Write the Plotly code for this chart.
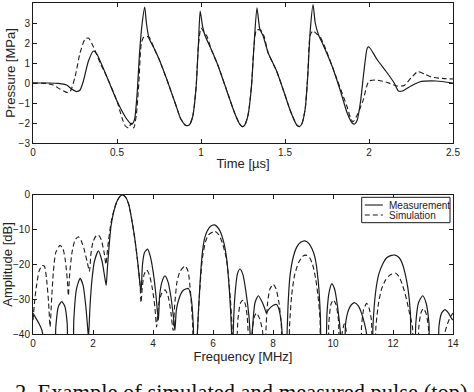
import plotly.graph_objects as go

# ---------------- data: top panel (pressure pulse) ----------------
t_meas = [0.00, 0.10, 0.15, 0.20, 0.23, 0.26, 0.28, 0.30, 0.33, 0.36, 0.38, 0.41, 0.45, 0.50,
          0.55, 0.58, 0.59, 0.605, 0.62, 0.635, 0.65, 0.665, 0.675, 0.69, 0.72, 0.75, 0.80,
          0.85, 0.88, 0.91, 0.93, 0.95, 0.97, 0.985, 0.995, 1.01, 1.025, 1.06, 1.10, 1.15,
          1.20, 1.23, 1.245, 1.26, 1.28, 1.30, 1.315, 1.333, 1.35, 1.37, 1.40, 1.45, 1.50,
          1.53, 1.57, 1.585, 1.60, 1.62, 1.635, 1.65, 1.667, 1.68, 1.70, 1.73, 1.78, 1.83,
          1.87, 1.90, 1.915, 1.93, 1.95, 1.97, 1.99, 2.00, 2.05, 2.10, 2.15, 2.175, 2.20,
          2.25, 2.30, 2.40, 2.50]
p_meas = [0.00, 0.00, -0.02, -0.10, -0.30, -0.43, -0.35, 0.10, 1.10, 1.60, 1.45, 0.90, 0.10, -0.90,
          -1.70, -2.02, -2.05, -1.80, -0.50, 1.60, 3.00, 3.80, 3.00, 2.25, 1.75, 1.20, 0.10,
          -1.10, -1.80, -2.12, -2.10, -1.70, -0.30, 2.00, 3.60, 2.80, 2.35, 1.70, 0.90, -0.30,
          -1.50, -2.05, -2.18, -2.10, -1.60, -0.20, 1.80, 3.76, 2.70, 2.35, 1.50, 0.60, -0.60,
          -1.35, -2.10, -2.18, -2.05, -1.30, 0.30, 2.60, 3.92, 3.00, 2.40, 1.85, 0.85, -0.40,
          -1.50, -2.00, -2.05, -1.85, -0.90, 0.60, 1.75, 1.80, 1.15, 0.60, 0.00, -0.40, -0.40,
          -0.15, 0.05, 0.10, 0.00]

t_sim = [0.00, 0.08, 0.12, 0.16, 0.20, 0.22, 0.25, 0.28, 0.31, 0.33, 0.36, 0.40, 0.44, 0.50,
         0.53, 0.55, 0.57, 0.585, 0.60, 0.615, 0.63, 0.645, 0.66, 0.69, 0.72, 0.75, 0.80,
         0.85, 0.88, 0.91, 0.93, 0.95, 0.97, 0.985, 1.00, 1.02, 1.035, 1.06, 1.10, 1.15,
         1.20, 1.23, 1.245, 1.26, 1.28, 1.30, 1.315, 1.33, 1.355, 1.375, 1.40, 1.45, 1.50,
         1.53, 1.57, 1.585, 1.60, 1.62, 1.635, 1.65, 1.667, 1.69, 1.71, 1.74, 1.80, 1.84,
         1.87, 1.89, 1.905, 1.93, 1.966, 1.985, 2.00, 2.04, 2.10, 2.17, 2.21, 2.25, 2.29,
         2.33, 2.37, 2.45, 2.50]
p_sim = [0.00, -0.02, -0.10, -0.30, -0.47, -0.45, 0.30, 1.50, 2.20, 2.25, 1.80, 1.00, 0.30, -0.90,
         -1.75, -2.15, -2.25, -2.00, -2.25, -1.60, 0.00, 2.00, 2.30, 2.30, 1.75, 1.20, 0.10,
         -1.10, -1.80, -2.12, -2.10, -1.70, -0.30, 1.90, 2.75, 2.50, 2.35, 1.70, 0.90, -0.30,
         -1.50, -2.05, -2.18, -2.10, -1.60, -0.20, 1.80, 2.65, 2.65, 2.35, 1.50, 0.60, -0.60,
         -1.35, -2.10, -2.18, -2.05, -1.30, 0.30, 2.40, 2.60, 2.45, 2.30, 1.75, 0.40, -0.50,
         -1.20, -1.75, -1.94, -1.60, -0.84, -0.20, 0.10, 0.15, 0.05, -0.15, -0.12, 0.25, 0.57,
         0.45, 0.30, 0.22, 0.20]

# ---------------- data: bottom panel (spectrum) ----------------
f_meas = [0.00, 0.10, 0.20, 0.30, 0.36, 0.55, 0.70, 0.76, 0.85, 0.96, 1.06, 1.14, 1.20,
          1.30, 1.36, 1.45, 1.57, 1.67, 1.76, 1.82, 1.85, 1.90, 1.97, 2.05, 2.18, 2.30, 2.38,
          2.44, 2.48, 2.52, 2.60, 2.70, 2.80, 2.90, 2.99, 3.10, 3.20, 3.30, 3.40, 3.50, 3.60,
          3.65, 3.72, 3.82, 3.92, 4.02, 4.10, 4.18, 4.22, 4.30, 4.40, 4.50, 4.60, 4.68, 4.73,
          4.78, 4.88, 5.00, 5.18, 5.28, 5.34, 5.40, 5.45, 5.50, 5.57, 5.64, 5.72, 5.80, 5.92,
          6.05, 6.20, 6.34, 6.45, 6.55, 6.62, 6.65, 6.68, 6.74, 6.82, 6.90, 7.00, 7.10, 7.20,
          7.28, 7.32, 7.40, 7.51, 7.62, 7.72, 7.78, 7.85, 8.00, 8.12, 8.20, 8.28, 8.34, 8.40,
          8.45, 8.50, 8.57, 8.68, 8.79, 8.92, 9.07, 9.20, 9.30, 9.40, 9.51, 9.58, 9.63, 9.75,
          9.80, 9.87, 9.96, 10.05, 10.15, 10.25, 10.30, 10.35, 10.42, 10.52, 10.62, 10.73,
          10.85, 10.95, 11.05, 11.12, 11.20, 11.28, 11.33, 11.42, 11.52, 11.65, 11.80, 11.95,
          12.07, 12.20, 12.30, 12.40, 12.50, 12.58, 12.64, 12.70, 12.76, 12.85, 12.99, 13.10,
          13.20, 13.26, 13.48, 13.53, 13.62, 13.73, 13.85, 13.95, 14.00]
a_meas = [-34.0, -35.5, -37.0, -39.0, -42.0, -55.0, -55.0, -38.0, -32.0, -30.7, -32.0, -37.0, -55.0,
          -55.0, -36.0, -27.0, -24.0, -26.0, -32.0, -38.0, -41.0, -32.0, -24.0, -19.0, -16.1, -19.0, -23.0,
          -26.0, -21.0, -16.5, -9.0, -4.5, -1.8, -0.4, 0.0, -0.8, -3.0, -7.5, -13.0, -20.0, -28.0,
          -20.0, -16.5, -15.6, -18.0, -23.0, -29.0, -36.0, -29.0, -25.0, -23.3, -25.0, -29.5, -35.0, -39.0,
          -33.0, -29.5, -27.5, -26.9, -30.0, -37.0, -55.0, -45.0, -36.0, -25.0, -17.0, -12.5, -10.5, -9.0,
          -8.6, -9.8, -13.0, -18.0, -28.0, -40.0, -55.0, -38.0, -28.0, -22.5, -21.3, -23.0, -28.0, -35.0,
          -45.0, -38.0, -31.0, -29.0, -30.5, -32.5, -34.0, -33.0, -31.8, -31.5, -33.0, -37.0, -45.0, -55.0,
          -45.0, -32.0, -23.0, -17.7, -15.0, -13.6, -13.2, -14.0, -15.5, -18.0, -25.0, -35.0, -55.0, -50.0,
          -34.0, -28.0, -25.6, -27.0, -32.0, -40.0, -55.0, -55.0, -37.0, -33.0, -31.5, -31.0,
          -32.0, -34.0, -37.0, -40.0, -55.0, -55.0, -38.0, -28.0, -23.0, -20.0, -18.0, -17.4,
          -17.3, -18.0, -19.5, -22.5, -27.0, -34.0, -55.0, -55.0, -37.0, -31.0, -29.0, -31.0,
          -37.0, -55.0, -55.0, -38.0, -34.0, -33.0, -34.0, -35.5, -36.0]

f_sim = [0.00, 0.06, 0.12, 0.20, 0.30, 0.38, 0.45, 0.52, 0.57, 0.62, 0.68, 0.76, 0.90, 1.00,
         1.08, 1.15, 1.18, 1.22, 1.30, 1.40, 1.51, 1.60, 1.70, 1.80, 1.88, 1.93, 2.00, 2.10,
         2.18, 2.28, 2.38, 2.43, 2.48, 2.52, 2.60, 2.70, 2.80, 2.90, 2.99, 3.10, 3.20, 3.30,
         3.40, 3.50, 3.57, 3.60, 3.64, 3.70, 3.79, 3.88, 3.98, 4.06, 4.12, 4.18, 4.28, 4.40,
         4.50, 4.60, 4.67, 4.72, 4.80, 4.90, 5.07, 5.17, 5.25, 5.32, 5.38, 5.45, 5.50, 5.57,
         5.65, 5.75, 5.85, 6.00, 6.07, 6.20, 6.32, 6.45, 6.52, 6.58, 6.63, 6.68, 6.78, 6.84,
         6.92, 7.01, 7.08, 7.14, 7.20, 7.24, 7.30, 7.38, 7.45, 7.55, 7.65, 7.72, 7.76, 7.82,
         7.90, 8.01, 8.10, 8.20, 8.28, 8.33, 8.50, 8.55, 8.62, 8.72, 8.85, 8.98, 9.10, 9.22,
         9.32, 9.42, 9.50, 9.57, 9.62, 9.80, 9.86, 9.93, 10.01, 10.10, 10.18, 10.24, 10.30,
         10.38, 10.46, 10.52, 10.90, 10.95, 11.02, 11.12, 11.20, 11.28, 11.34, 11.38, 11.43,
         11.52, 11.62, 11.75, 11.90, 12.09, 12.20, 12.32, 12.45, 12.55, 12.65, 12.72, 12.80,
         12.86, 12.93, 13.01, 13.10, 13.18, 13.24, 13.65, 13.72, 13.82, 13.92, 14.00]
a_sim = [-36.0, -30.0, -26.0, -22.0, -20.3, -20.5, -24.0, -31.0, -38.0, -30.0, -22.0, -16.5, -14.5, -15.5,
         -19.0, -25.0, -29.0, -23.0, -16.5, -13.0, -12.0, -13.0, -15.5, -19.0, -22.0, -17.0, -13.5, -11.8,
         -11.5, -13.0, -17.0, -20.0, -16.0, -13.0, -8.0, -4.3, -1.8, -0.4, 0.0, -0.8, -3.0, -7.5,
         -13.0, -20.0, -26.0, -31.0, -27.0, -23.0, -21.6, -23.0, -27.0, -32.0, -38.0, -32.0, -28.5, -27.3,
         -29.0, -34.0, -39.0, -32.0, -25.0, -22.0, -20.4, -22.0, -28.0, -37.0, -55.0, -45.0, -36.0, -26.0,
         -18.0, -13.5, -11.5, -10.6, -10.5, -11.5, -14.0, -18.5, -24.0, -30.0, -37.0, -55.0, -45.0, -35.0,
         -31.0, -30.2, -31.5, -35.0, -45.0, -55.0, -40.0, -35.0, -34.0, -35.5, -39.0, -55.0, -40.0, -31.0,
         -27.0, -25.7, -27.0, -31.0, -38.0, -55.0, -55.0, -38.0, -29.0, -23.0, -19.5, -17.7, -17.3, -18.0,
         -20.0, -24.0, -29.0, -36.0, -55.0, -55.0, -37.0, -31.5, -30.2, -31.5, -36.0, -55.0, -40.0,
         -37.0, -40.0, -55.0, -55.0, -38.0, -33.0, -31.2, -32.5, -36.0, -55.0, -55.0, -38.0,
         -31.0, -27.0, -24.5, -23.0, -22.5, -23.5, -26.0, -30.0, -34.0, -38.0, -55.0, -55.0,
         -38.0, -34.0, -32.7, -34.0, -38.0, -55.0, -55.0, -40.0, -37.0, -35.0, -34.0]

series_names = ["Measurement", "Simulation"]
time_ticks = [0, 0.5, 1, 1.5, 2, 2.5]
time_tick_labels = ["0", "0.5", "1", "1.5", "2", "2.5"]
pressure_ticks = [-3, -2, -1, 0, 1, 2, 3, 4]
freq_ticks = [0, 2, 4, 6, 8, 10, 12, 14]
amp_ticks = [-40, -30, -20, -10, 0]
caption = "2. Example of simulated and measured pulse (top)"

FONT = "Liberation Sans, Arial, Helvetica, sans-serif"
INK = "#1a1a1a"
DASH = "5px,3px"

fig = go.Figure()
fig.add_trace(go.Scatter(x=t_meas, y=p_meas, mode="lines", name=series_names[0],
                         line=dict(color=INK, width=1.2, shape="spline", smoothing=0.6),
                         xaxis="x", yaxis="y", showlegend=False))
fig.add_trace(go.Scatter(x=t_sim, y=p_sim, mode="lines", name=series_names[1],
                         line=dict(color=INK, width=1.1, dash=DASH, shape="spline", smoothing=0.6),
                         xaxis="x", yaxis="y", showlegend=False))
fig.add_trace(go.Scatter(x=f_meas, y=a_meas, mode="lines", name=series_names[0],
                         line=dict(color=INK, width=1.2, shape="spline", smoothing=0.6),
                         xaxis="x2", yaxis="y2", showlegend=False))
fig.add_trace(go.Scatter(x=f_sim, y=a_sim, mode="lines", name=series_names[1],
                         line=dict(color=INK, width=1.1, dash=DASH, shape="spline", smoothing=0.6),
                         xaxis="x2", yaxis="y2", showlegend=False))

axis_common = dict(showgrid=False, zeroline=False, showline=True, linecolor=INK, linewidth=1,
                   mirror="ticks", ticks="inside", ticklen=4, tickcolor=INK, tickwidth=1,
                   automargin=False, tickfont=dict(family=FONT, size=10, color="#222"))

fig.update_layout(
    width=474, height=392,
    margin=dict(l=33, r=21, t=3, b=58),
    paper_bgcolor="white", plot_bgcolor="white",
    font=dict(family=FONT, color="#222"),
    xaxis=dict(domain=[0, 1], anchor="y", range=[0, 2.5], tickvals=time_ticks,
               ticktext=time_tick_labels,
               title=dict(text="Time [µs]", font=dict(family=FONT, size=13), standoff=1),
               **axis_common),
    yaxis=dict(domain=[0.577, 1], anchor="x", range=[-3, 4], tickvals=pressure_ticks,
               title=dict(text="Pressure [MPa]", font=dict(family=FONT, size=13), standoff=0),
               **axis_common),
    xaxis2=dict(domain=[0, 1], anchor="y2", range=[0, 14], tickvals=freq_ticks,
                title=dict(text="Frequency [MHz]", font=dict(family=FONT, size=13), standoff=1),
                **axis_common),
    yaxis2=dict(domain=[0, 0.42], anchor="x2", range=[-40, 0], tickvals=amp_ticks,
                title=dict(text="Amplitude [dB]", font=dict(family=FONT, size=13), standoff=0),
                **axis_common),
    showlegend=False,
)

# custom legend box (matches the compact MATLAB-style legend)
lx0, lx1, ly0, ly1 = 0.7826, 0.9929, 0.3363, 0.413
fig.add_shape(type="rect", xref="paper", yref="paper", x0=lx0, x1=lx1, y0=ly0, y1=ly1,
              line=dict(color=INK, width=1), fillcolor="white", layer="above")
rows = [0.3897, 0.3595]
for name, yy, dash in zip(series_names, rows, ["solid", DASH]):
    fig.add_shape(type="line", xref="paper", yref="paper", x0=0.790, x1=0.833, y0=yy, y1=yy,
                  line=dict(color=INK, width=1.1, dash=dash), layer="above")
    fig.add_annotation(xref="paper", yref="paper", x=0.843, y=yy, text=name, showarrow=False,
                       xanchor="left", yanchor="middle", font=dict(family=FONT, size=10, color="#222"))

fig.add_annotation(xref="paper", yref="paper", x=-0.048, y=-0.134, text=caption, showarrow=False,
                   xanchor="left", yanchor="top",
                   font=dict(family="Liberation Serif, Times New Roman, serif", size=22.5, color="#111"))

# the page's default 8px body margin would shift the figure; remove it
fig.write_html("out.html", config={"displayModeBar": False},
               post_script="document.body.style.margin='0';document.body.style.overflow='hidden';")
